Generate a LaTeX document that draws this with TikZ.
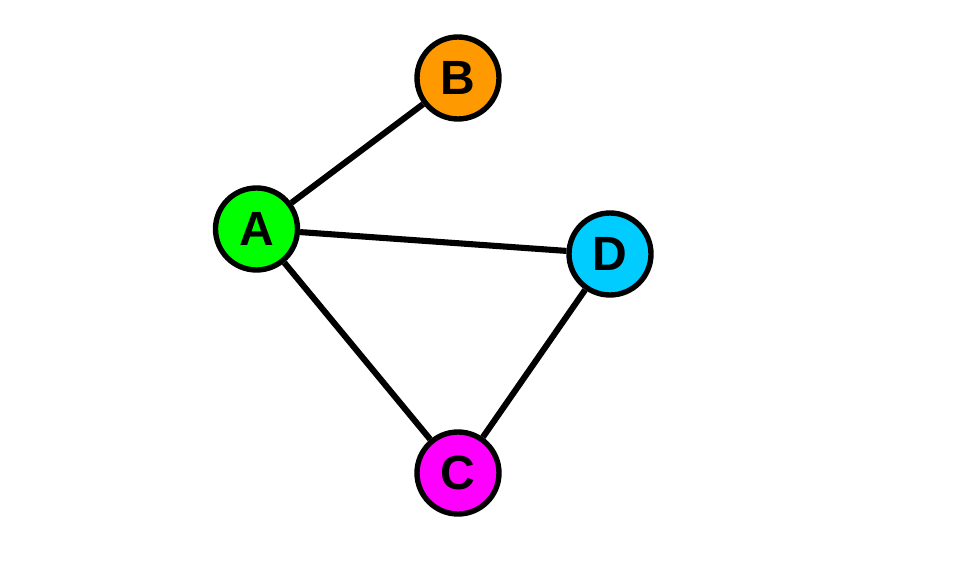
\documentclass[tikz,border=0pt]{standalone}
\usepackage{fontspec}
\setmainfont{Liberation Sans}
\usepackage{tikz}
\usetikzlibrary{positioning}
\definecolor{agreen}{HTML}{00FF00}
\definecolor{borange}{HTML}{FF9900}
\definecolor{cmagenta}{HTML}{FF00FF}
\definecolor{dcyan}{HTML}{00CCFF}

\begin{document}
\begin{tikzpicture}[
  x=0.03cm, y=-0.03cm,
  vertex/.style={circle, draw=black, line width=4.6pt, minimum size=2.46cm,
                 inner sep=0pt, font=\fontsize{41}{41}\selectfont\bfseries},
  edge/.style={line width=5.2pt}
]
\useasboundingbox (0,0) rectangle (953,571);
% vertices
\node[vertex, fill=agreen]   (A) at (256.5,229) {A};
\node[vertex, fill=borange]  (B) at (458,78)    {B};
\node[vertex, fill=cmagenta] (C) at (458,473)   {C};
\node[vertex, fill=dcyan]    (D) at (610,254)   {D};
% edges
\draw[edge] (A) -- (B);
\draw[edge] (A) -- (D);
\draw[edge] (A) -- (C);
\draw[edge] (D) -- (C);
\end{tikzpicture}
\end{document}
